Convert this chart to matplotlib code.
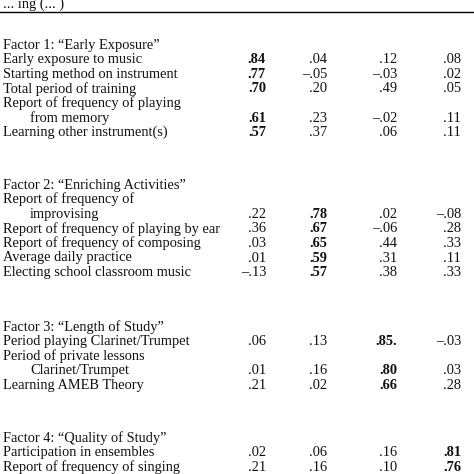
import matplotlib.pyplot as plt

# factor groups: (title, rows); each row = (label lines, values, bold column)
f1_title = 'Factor 1: \u201cEarly Exposure\u201d'
f1_labels = [["Early exposure to music"], ["Starting method on instrument"],
             ["Total period of training"], ["Report of frequency of playing", "from memory"],
             ["Learning other instrument(s)"]]
f1_values = [[".84", ".04", ".12", ".08"], [".77", "\u2013.05", "\u2013.03", ".02"],
             [".70", ".20", ".49", ".05"], [".61", ".23", "\u2013.02", ".11"],
             [".57", ".37", ".06", ".11"]]

f2_title = 'Factor 2: \u201cEnriching Activities\u201d'
f2_labels = [["Report of frequency of", "improvising"], ["Report of frequency of playing by ear"],
             ["Report of frequency of composing"], ["Average daily practice"],
             ["Electing school classroom music"]]
f2_values = [[".22", ".78", ".02", "\u2013.08"], [".36", ".67", "\u2013.06", ".28"],
             [".03", ".65", ".44", ".33"], [".01", ".59", ".31", ".11"],
             ["\u2013.13", ".57", ".38", ".33"]]

f3_title = 'Factor 3: \u201cLength of Study\u201d'
f3_labels = [["Period playing Clarinet/Trumpet"], ["Period of private lessons", "Clarinet/Trumpet"],
             ["Learning AMEB Theory"]]
f3_values = [[".06", ".13", ".85.", "\u2013.03"], [".01", ".16", ".80", ".03"],
             [".21", ".02", ".66", ".28"]]

f4_title = 'Factor 4: \u201cQuality of Study\u201d'
f4_labels = [["Participation in ensembles"], ["Report of frequency of singing"]]
f4_values = [[".02", ".06", ".16", ".81"], [".21", ".16", ".10", ".76"]]

groups = [(f1_title, f1_labels, f1_values, 0, 45),
          (f2_title, f2_labels, f2_values, 1, 185),
          (f3_title, f3_labels, f3_values, 2, 327),
          (f4_title, f4_labels, f4_values, 3, 438)]

W = H = 474
fig = plt.figure(figsize=(4.74, 4.74), dpi=100)
fig.patch.set_facecolor('white')
fs = 10.4
fam = ['Liberation Serif', 'DejaVu Serif']
col_right = [266, 327, 397, 461]
step = 14.6

def put(x, y, s, **kw):
    fig.text(x / W, 1 - y / H, s, fontsize=fs, family=fam, va='center',
             color='#111', **kw)

put(3, 4, "... ing (... )")
fig.add_artist(plt.Line2D([0, 1], [1 - 12 / H] * 2, color='black', lw=1.0))

for title, labels, values, bold_col, y0 in groups:
    put(3, y0, title)
    y = y0 + step
    for lab, vals in zip(labels, values):
        put(3, y, lab[0])
        if len(lab) > 1:
            y += step
            put(30, y, lab[1])
        for j, v in enumerate(vals):
            put(col_right[j], y, v, ha='right',
                fontweight='bold' if j == bold_col else 'normal')
        y += step

fig.savefig("out.png", dpi=100)
